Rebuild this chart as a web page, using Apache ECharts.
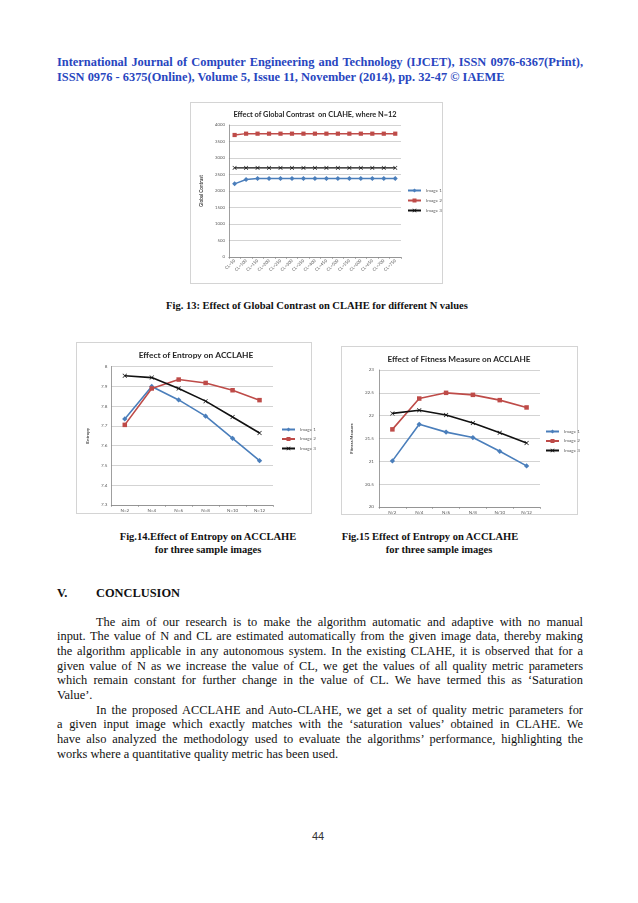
<!DOCTYPE html>
<html>
<head>
<meta charset="utf-8">
<script src="https://cdn.jsdelivr.net/npm/echarts@6/dist/echarts.min.js"></script>
<style>
html,body{margin:0;padding:0;background:#fff;}
#page{position:relative;width:638px;height:903px;overflow:hidden;background:#fff;font-family:"Liberation Serif","Times New Roman",serif;color:#111;}
.abs{position:absolute;}
.hdr{left:57px;width:526px;color:#2846c0;font-weight:bold;font-size:12.4px;line-height:15px;white-space:nowrap;}
.j{text-align:justify;text-align-last:justify;}
.cap{font-weight:bold;font-size:10.5px;line-height:13px;white-space:nowrap;text-align:center;}
.para{left:57px;width:526px;font-size:12.4px;line-height:14.66px;}
.para div{white-space:nowrap;}
.para div.j{white-space:normal;}
.frame{position:absolute;border:1px solid #d4d4d4;box-sizing:border-box;background:#fff;}
.chart{position:absolute;left:0;top:0;}
</style>
</head>
<body>
<div id="page">
  <div class="abs hdr j" style="top:54.5px;">International Journal of Computer Engineering and Technology (IJCET), ISSN 0976-6367(Print),</div>
  <div class="abs hdr" style="top:69.5px;">ISSN 0976 - 6375(Online), Volume 5, Issue 11, November (2014), pp. 32-47 © IAEME</div>

  <div class="frame" style="left:190px;top:102px;width:253px;height:182px;"><div id="c1" class="chart" style="width:273px;height:182px;"></div></div>
  <div class="abs cap" style="left:117px;width:400px;top:298.5px;">Fig. 13: Effect of Global Contrast on CLAHE for different N values</div>

  <div class="frame" style="left:76px;top:342px;width:236px;height:172px;"><div id="c2" class="chart" style="width:256px;height:172px;"></div></div>
  <div class="frame" style="left:341px;top:346px;width:237px;height:169px;"><div id="c3" class="chart" style="width:257px;height:169px;"></div></div>

  <div class="abs cap" style="left:108px;width:200px;top:529.5px;">Fig.14.Effect of Entropy on ACCLAHE<br>for three sample images</div>
  <div class="abs cap" style="left:330px;width:200px;top:529.5px;">Fig.15 Effect of Entropy on ACCLAHE<br><span style="padding-left:18px">for three sample images</span></div>

  <div class="abs" style="left:57px;top:585.5px;font-weight:bold;font-size:12.4px;line-height:15px;">V.</div>
  <div class="abs" style="left:96px;top:585.5px;font-weight:bold;font-size:12.4px;line-height:15px;">CONCLUSION</div>

  <div class="abs para" style="top:614.7px;">
    <div class="j" style="padding-left:39px;">The aim of our research is to make the algorithm automatic and adaptive with no manual</div>
    <div class="j">input. The value of N and CL are estimated automatically from the given image data, thereby making</div>
    <div class="j">the algorithm applicable in any autonomous system. In the existing CLAHE, it is observed that for a</div>
    <div class="j">given value of N as we increase the value of CL, we get the values of all quality metric parameters</div>
    <div class="j">which remain constant for further change in the value of CL. We have termed this as ‘Saturation</div>
    <div>Value’.</div>
    <div class="j" style="padding-left:39px;">In the proposed ACCLAHE and Auto-CLAHE, we get a set of quality metric parameters for</div>
    <div class="j">a given input image which exactly matches with the ‘saturation values’ obtained in CLAHE. We</div>
    <div class="j">have also analyzed the methodology used to evaluate the algorithms’ performance, highlighting the</div>
    <div>works where a quantitative quality metric has been used.</div>
  </div>

  <div class="abs" style="left:298px;width:40px;top:829px;text-align:center;font-family:'Liberation Sans',Arial,sans-serif;font-size:11px;line-height:14px;color:#333;">44</div>
</div>
<script>
// ---------- data ----------
const clCategories = ['CL=50','CL=100','CL=150','CL=200','CL=250','CL=300','CL=350','CL=400','CL=450','CL=500','CL=550','CL=600','CL=650','CL=700','CL=750'];
const gcImage1 = [2217,2348,2379,2379,2379,2379,2379,2379,2379,2379,2379,2379,2379,2379,2379];
const gcImage2 = [3697,3737,3737,3737,3737,3737,3737,3737,3737,3737,3737,3737,3737,3737,3737];
const gcImage3 = [2702,2702,2702,2702,2702,2702,2702,2702,2702,2702,2702,2702,2702,2702,2702];

const entCategories = ['N=2','N=4','N=6','N=8','N=10','N=12'];
const entImage1 = [7.735,7.899,7.831,7.749,7.637,7.524];
const entImage2 = [7.705,7.889,7.934,7.917,7.880,7.830];
const entImage3 = [7.953,7.944,7.889,7.825,7.745,7.664];

const fitCategories = ['N/2','N/4','N/6','N/8','N/10','N/12'];
const fitImage1 = [21.01,21.81,21.64,21.52,21.22,20.90];
const fitImage2 = [21.70,22.375,22.50,22.456,22.34,22.18];
const fitImage3 = [22.05,22.12,22.015,21.84,21.625,21.40];

const seriesNames = ['Image 1','Image 2','Image 3'];

// ---------- styling helpers ----------
const BLUE = '#4a7ebb', RED = '#be4b48', BLACK = '#111111';
const XSYM = 'path://M0,1L1,0L5,4L9,0L10,1L6,5L10,9L9,10L5,6L1,10L0,9L4,5Z';
const FONT = 'Lato, "Open Sans", sans-serif';
const LBL = '#595959';

function mkSeries(names, datas, symSize, lw) {
  const cols = [BLUE, RED, BLACK];
  const syms = ['diamond', 'rect', XSYM];
  const sizes = [symSize + 0.8, symSize, symSize];
  return datas.map((d, i) => ({
    name: names[i], type: 'line', data: d,
    symbol: syms[i], symbolSize: sizes[i], showSymbol: true,
    lineStyle: { color: cols[i], width: lw },
    itemStyle: { color: cols[i] },
    emphasis: { disabled: true },
    animation: false
  }));
}

function mkOption(cfg) {
  return {
    animation: false,
    textStyle: { fontFamily: FONT },
    title: {
      text: cfg.title, left: cfg.titleX, top: cfg.titleY, textAlign: 'center', padding: 0,
      textStyle: { fontFamily: FONT, fontWeight: 'bold', fontSize: cfg.titleSize, color: '#262626' }
    },
    grid: cfg.grid,
    legend: {
      orient: 'vertical', left: cfg.legendX, top: cfg.legendY, padding: 0,
      itemWidth: 13, itemHeight: 5, itemGap: cfg.legendGap,
      textStyle: { fontFamily: FONT, fontSize: 4.6, color: LBL, overflow: 'none' },
      data: seriesNames
    },
    xAxis: {
      type: 'category', data: cfg.cats, boundaryGap: true,
      axisLine: { lineStyle: { color: '#868686', width: 0.8 } },
      axisTick: { show: true, length: 2, lineStyle: { color: '#868686', width: 0.6 } },
      axisLabel: { fontFamily: FONT, fontSize: cfg.xFont, color: LBL, rotate: cfg.xRotate || 0, margin: cfg.xMargin, interval: 0 }
    },
    yAxis: {
      type: 'value', min: cfg.yMin, max: cfg.yMax, interval: cfg.yInt,
      name: cfg.yName, nameLocation: 'middle', nameRotate: 90, nameGap: cfg.nameGap,
      nameTextStyle: { fontFamily: FONT, fontWeight: 'bold', fontSize: cfg.nameSize, color: '#404040' },
      axisLine: { show: true, lineStyle: { color: '#868686', width: 0.8 } },
      axisTick: { show: false },
      splitLine: { lineStyle: { color: '#c8c8c8', width: 0.8 } },
      axisLabel: { fontFamily: FONT, fontSize: cfg.yFont, color: LBL, margin: cfg.yMargin, formatter: cfg.yFmt }
    },
    series: mkSeries(seriesNames, cfg.data, cfg.sym, cfg.lw)
  };
}

const c1 = echarts.init(document.getElementById('c1'), null, { renderer: 'canvas' });
c1.setOption(mkOption({
  title: 'Effect of Global Contrast  on CLAHE, where N=12', titleX: 124, titleY: 8, titleSize: 7.4,
  grid: { left: 29, top: 22, width: 181, height: 132 },
  legendX: 216, legendY: 85, legendGap: 5,
  cats: clCategories, xFont: 4.3, xRotate: 45, xMargin: 3,
  yMin: 0, yMax: 4000, yInt: 500, yName: 'Global Contrast', nameGap: 14, nameSize: 4.6,
  yFont: 4.3, yMargin: 4, yFmt: v => String(v),
  data: [gcImage1, gcImage2, gcImage3], sym: 4.2, lw: 1.4
}));

const c2 = echarts.init(document.getElementById('c2'), null, { renderer: 'canvas' });
c2.setOption(mkOption({
  title: 'Effect of Entropy on ACCLAHE', titleX: 119, titleY: 8, titleSize: 8.4,
  grid: { left: 23, top: 23.5, width: 173, height: 138.5 },
  legendX: 204, legendY: 84, legendGap: 4.5,
  cats: entCategories, xFont: 4.5, xMargin: 3,
  yMin: 7.3, yMax: 8, yInt: 0.1, yName: 'Entropy', nameGap: 13, nameSize: 4.5,
  yFont: 4.6, yMargin: 4, yFmt: v => (Math.round(v * 10) / 10).toString(),
  data: [entImage1, entImage2, entImage3], sym: 4.5, lw: 1.6
}));

const c3 = echarts.init(document.getElementById('c3'), null, { renderer: 'canvas' });
c3.setOption(mkOption({
  title: 'Effect of Fitness Measure on ACCLAHE', titleX: 117, titleY: 8, titleSize: 8.2,
  grid: { left: 25, top: 23, width: 173, height: 137 },
  legendX: 203, legendY: 82, legendGap: 4.5,
  cats: fitCategories, xFont: 4.5, xMargin: 3,
  yMin: 20, yMax: 23, yInt: 0.5, yName: 'Fitness Measure', nameGap: 16, nameSize: 4.2,
  yFont: 4.6, yMargin: 5, yFmt: v => (Math.round(v * 10) / 10).toString(),
  data: [fitImage1, fitImage2, fitImage3], sym: 4.5, lw: 1.6
}));
</script>
</body>
</html>
